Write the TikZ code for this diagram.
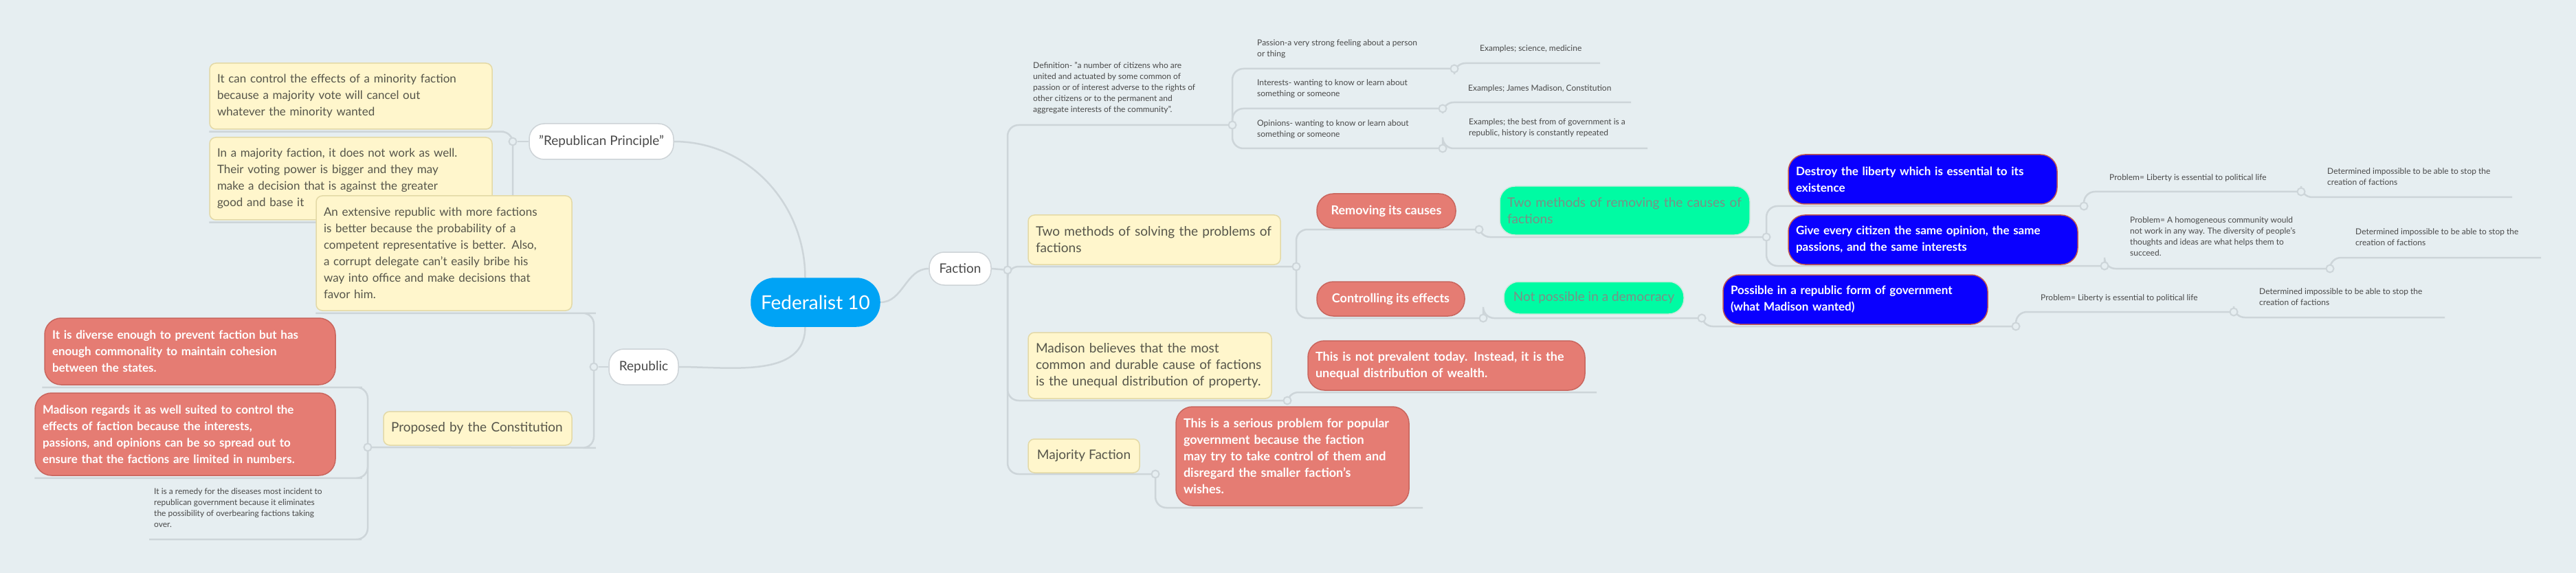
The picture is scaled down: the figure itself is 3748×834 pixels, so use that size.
\documentclass[tikz,border=0pt]{standalone}
\usepackage{fontspec}
\setmainfont{Lato}
\definecolor{bg}{HTML}{E6EEF1}
\definecolor{conn}{HTML}{CDD5D9}
\definecolor{yelF}{HTML}{FFF6CC}
\definecolor{yelB}{HTML}{E3D9A6}
\definecolor{redF}{HTML}{E57C73}
\definecolor{redB}{HTML}{C9655D}
\definecolor{bluF}{HTML}{0A00FF}
\definecolor{bluB}{HTML}{C2574F}
\definecolor{grnF}{HTML}{00FBA3}
\definecolor{grnB}{HTML}{CFE9DD}
\definecolor{grnT}{HTML}{7E8E86}
\definecolor{whtB}{HTML}{CDD3D7}
\definecolor{txt}{HTML}{55554A}
\definecolor{smt}{HTML}{4A4A4A}
\definecolor{cen}{HTML}{00A3F5}
\pgfdeclarelayer{bgl}
\pgfdeclarelayer{lines}
\pgfsetlayers{bgl,lines,main}
\tikzset{
  box/.style={line width=1.5pt, inner xsep=11pt, inner ysep=0pt, align=left},
  yel/.style={box, fill=yelF, draw=yelB, rounded corners=9pt, text=txt, font=\fontsize{17}{24}\selectfont},
  redb/.style={box, fill=redF, draw=redB, rounded corners=24pt, text=white, font=\fontsize{17}{24}\selectfont\bfseries},
  blub/.style={box, fill=bluF, draw=bluB, rounded corners=24pt, text=white, font=\fontsize{17}{24}\selectfont\bfseries},
  grnb/.style={box, fill=grnF, draw=grnB, rounded corners=22pt, text=grnT, font=\fontsize{19}{24}\selectfont},
  whtb/.style={box, fill=white, draw=whtB, rounded corners=22pt, text=smt, font=\fontsize{19}{24}\selectfont, align=center},
  sm/.style={anchor=north west, inner sep=0pt, align=left, text=smt, font=\fontsize{12}{16}\selectfont},
  conn/.style={draw=conn, line width=2.5pt, rounded corners=16pt},
  jn/.style={circle, draw=conn, fill=bg, line width=2pt, minimum size=11pt, inner sep=0pt},
}
\begin{document}
\begin{tikzpicture}[x=1pt,y=-1pt]
\begin{pgfonlayer}{bgl}
\fill[bg] (0,0) rectangle (3748,834);
\end{pgfonlayer}
\useasboundingbox (0,0) rectangle (3748,834);

% ---------- nodes ----------
\node[box, fill=cen, draw=cen, rounded corners=34pt, text=white, font=\fontsize{28}{30}\selectfont, minimum width=187pt, minimum height=70pt, align=center] (fed) at (1186.5,440) {Federalist 10};
\node[whtb, minimum width=90pt, minimum height=48pt] (fac) at (1397,391) {Faction};
\node[whtb, minimum width=210pt, minimum height=52pt] (rp) at (875,206) {"Republican Principle"};
\node[whtb, minimum width=101pt, minimum height=52pt] (rep) at (936.5,534) {Republic};

\node[yel, minimum width=411pt, minimum height=96pt, text width=389pt] (y1) at (510.5,140) {It can control the effects of a minority faction\\because a majority vote will cancel out\\whatever the minority wanted};
\node[yel, minimum width=411pt, minimum height=120pt, text width=389pt] (y2) at (510.5,260) {In a majority faction, it does not work as well.\\Their voting power is bigger and they may\\make a decision that is against the greater\\good and base it};
\node[yel, minimum width=372pt, minimum height=167pt, text width=350pt] (y3) at (646,368.5) {An extensive republic with more factions\\is better because the probability of a\\competent representative is better. Also,\\a corrupt delegate can't easily bribe his\\way into office and make decisions that\\favor him.};
\node[yel, font=\fontsize{19}{24}\selectfont, minimum width=274pt, minimum height=49pt, text width=252pt] (pc) at (695,623.5) {Proposed by the Constitution};
\node[redb, minimum width=423pt, minimum height=97pt, text width=401pt] (r1) at (276.5,511.5) {It is diverse enough to prevent faction but has\\enough commonality to maintain cohesion\\between the states.};
\node[redb, minimum width=437pt, minimum height=120pt, text width=415pt] (r2) at (269.5,632) {Madison regards it as well suited to control the\\effects of faction because the interests,\\passions, and opinions can be so spread out to\\ensure that the factions are limited in numbers.};
\node[sm] (rem) at (224,710) {It is a remedy for the diseases most incident to\\republican government because it eliminates\\the possibility of overbearing factions taking\\over.};

\node[sm] (def) at (1503,90) {Definition- "a number of citizens who are\\united and actuated by some common of\\passion or of interest adverse to the rights of\\other citizens or to the permanent and\\aggregate interests of the community".};
\node[sm] (pas) at (1829,57) {Passion-a very strong feeling about a person\\or thing};
\node[sm] (int) at (1829,115) {Interests- wanting to know or learn about\\something or someone};
\node[sm] (opi) at (1829,174) {Opinions- wanting to know or learn about\\something or someone};
\node[sm] (ex1) at (2153,65) {Examples; science, medicine};
\node[sm] (ex2) at (2136,123) {Examples; James Madison, Constitution};
\node[sm] (ex3) at (2137,172) {Examples; the best from of government is a\\republic, history is constantly repeated};

\node[yel, font=\fontsize{19}{24}\selectfont, minimum width=367pt, minimum height=72pt, text width=345pt] (tm) at (1679.5,349) {Two methods of solving the problems of\\factions};
\node[redb, font=\fontsize{18}{24}\selectfont\bfseries, minimum width=202pt, minimum height=50pt, align=center] (rc) at (2017,307) {Removing its causes};
\node[redb, font=\fontsize{18}{24}\selectfont\bfseries, minimum width=215pt, minimum height=50pt, align=center] (ce) at (2023.5,435) {Controlling its effects};
\node[grnb, minimum width=364pt, minimum height=71pt, text width=342pt] (g1) at (2364,306.5) {Two methods of removing the causes of\\factions};
\node[grnb, minimum width=262pt, minimum height=47pt, align=center] (g2) at (2319,433.5) {Not possible in a democracy};
\node[blub, minimum width=391pt, minimum height=72pt, text width=369pt] (b1) at (2797.5,261) {Destroy the liberty which is essential to its\\existence};
\node[blub, minimum width=421pt, minimum height=72pt, text width=399pt] (b2) at (2812.5,349) {Give every citizen the same opinion, the same\\passions, and the same interests};
\node[blub, minimum width=385pt, minimum height=72pt, text width=363pt] (b3) at (2699.5,436) {Possible in a republic form of government\\(what Madison wanted)};
\node[sm] (p1) at (3069,253) {Problem= Liberty is essential to political life};
\node[sm] (d1) at (3386,244) {Determined impossible to be able to stop the\\creation of factions};
\node[sm] (p2) at (3099,315) {Problem= A homogeneous community would\\not work in any way. The diversity of people's\\thoughts and ideas are what helps them to\\succeed.};
\node[sm] (d2) at (3427,332) {Determined impossible to be able to stop the\\creation of factions};
\node[sm] (p3) at (2969,428) {Problem= Liberty is essential to political life};
\node[sm] (d3) at (3287,419) {Determined impossible to be able to stop the\\creation of factions};

\node[yel, font=\fontsize{19}{24}\selectfont, minimum width=354pt, minimum height=96pt, text width=332pt] (mb) at (1673,532) {Madison believes that the most\\common and durable cause of factions\\is the unequal distribution of property.};
\node[redb, font=\fontsize{18}{24}\selectfont\bfseries, minimum width=403pt, minimum height=72pt, text width=381pt] (np) at (2104.5,532) {This is not prevalent today. Instead, it is the\\unequal distribution of wealth.};
\node[yel, font=\fontsize{19}{24}\selectfont, minimum width=162pt, minimum height=49pt, align=center] (mf) at (1577,663.5) {Majority Faction};
\node[redb, font=\fontsize{18}{24}\selectfont\bfseries, minimum width=339pt, minimum height=144pt, text width=317pt] (sp) at (1880.5,664) {This is a serious problem for popular\\government because the faction\\may try to take control of them and\\disregard the smaller faction's\\wishes.};

% ---------- junctions ----------
\node[jn] (jrp) at (746,206) {};
\node[jn] (jrep) at (864,534) {};
\node[jn] (jpc) at (535,651) {};
\node[jn] (jfac) at (1466,393) {};
\node[jn] (jdef) at (1793,182) {};
\node[jn] (jpas) at (2116,100) {};
\node[jn] (jint) at (2099,158) {};
\node[jn] (jop) at (2099,216) {};
\node[jn] (jtm) at (1886,388) {};
\node[jn] (jrc) at (2152,334) {};
\node[jn] (jce) at (2158,463) {};
\node[jn] (jg1) at (2570,345) {};
\node[jn] (jg2) at (2476,463) {};
\node[jn] (jb1) at (3032,300) {};
\node[jn] (jb2) at (3062,387) {};
\node[jn] (jb3) at (2933,475) {};
\node[jn] (jp1) at (3348,279) {};
\node[jn] (jp2) at (3390,391) {};
\node[jn] (jp3) at (3250,454) {};
\node[jn] (jmb) at (1873,583) {};
\node[jn] (jmf) at (1681,690) {};

\coordinate (remL) at (217,785);
\coordinate (x1R) at (2328,92);
\coordinate (x2R) at (2373,149);
\coordinate (x3R) at (2397,216);
\coordinate (d1R) at (3655,287);
\coordinate (d2R) at (3697,375);
\coordinate (d3R) at (3557,462);
\coordinate (npR) at (2323,571);
\coordinate (spR) at (2070,739);

% ---------- connectors ----------
\begin{pgfonlayer}{lines}
\draw[conn] (rp.east) to[out=0,in=90] ([xshift=-15pt]fed.north);
\draw[conn] (rep.east) to[out=0,in=-90] ([xshift=-15pt]fed.south);
\draw[conn] (fed.east) to[out=0,in=180] (fac.west);
\draw[conn] (rp.west) -- (jrp);
\draw[conn] (rep.west) -- (jrep);
\draw[conn] (fac.east) -- (jfac);
% left
\draw[conn] (jrp.center) |- ([yshift=-3pt]y1.south east) -- ([yshift=-3pt]y1.south west);
\draw[conn] (jrp.center) |- ([yshift=-3pt]y2.south east) -- ([yshift=-3pt]y2.south west);
\draw[conn] (jrep.center) |- ([xshift=18pt,yshift=-3pt]y3.south east) -- ([yshift=-3pt]y3.south west);
\draw[conn] (jrep.center) |- ([xshift=18pt,yshift=-3pt]pc.south east) -- (jpc.center);
\draw[conn] (jpc.center) |- ([xshift=22pt,yshift=-3pt]r1.south east) -- ([xshift=-3pt,yshift=-3pt]r1.south west);
\draw[conn] (jpc.center) |- ([xshift=22pt,yshift=-3pt]r2.south east) -- ([yshift=-3pt]r2.south west);
\draw[conn] (jpc.center) |- ([xshift=-25pt]jpc.center |- remL) -- (remL);
% right
\draw[conn] (jfac.center) |- (jdef.center);
\draw[conn] (jfac.center) |- (jtm.center);
\draw[conn] (jfac.center) |- (jmb.center);
\draw[conn] (jfac.center) |- (jmf.center);
\draw[conn] (jdef.center) |- (jpas.center);
\draw[conn] (jdef.center) |- (jint.center);
\draw[conn] (jdef.center) |- (jop.center);
\draw[conn] (jpas.center) |- (x1R);
\draw[conn] (jint.center) |- (x2R);
\draw[conn] (jop.center) |- (x3R);
\draw[conn] (jtm.center) |- (jrc.center);
\draw[conn] (jtm.center) |- (jce.center);
\draw[conn] (jrc.center) |- (jg1.center);
\draw[conn] (jce.center) |- (jg2.center);
\draw[conn] (jg1.center) |- (jb1.center);
\draw[conn] (jg1.center) |- (jb2.center);
\draw[conn] (jg2.center) |- (jb3.center);
\draw[conn] (jb1.center) |- (jp1.center);
\draw[conn] (jb2.center) |- (jp2.center);
\draw[conn] (jb3.center) |- (jp3.center);
\draw[conn] (jp1.center) |- (d1R);
\draw[conn] (jp2.center) |- (d2R);
\draw[conn] (jp3.center) |- (d3R);
\draw[conn] (jmb.center) |- (npR);
\draw[conn] (jmf.center) |- (spR);
\end{pgfonlayer}
\end{tikzpicture}
\end{document}
